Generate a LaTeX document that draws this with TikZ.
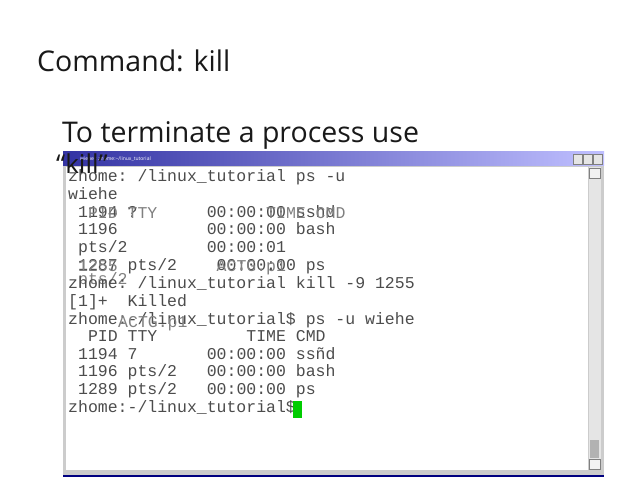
\documentclass[tikz,border=0pt]{standalone}
\usepackage{fontspec}
\setmainfont{Open Sans}
\newfontfamily\termfont{Liberation Mono}
\begin{document}
\begin{tikzpicture}[x=1pt,y=-1pt,
  term/.style={anchor=base west,inner sep=0pt,font=\termfont\fontsize{16.5}{16.5}\selectfont,text=black!70},
  ghost/.style={term,text=black!50},
  slide/.style={anchor=base west,inner sep=0pt,text=black!90}]
\useasboundingbox (0,0) rectangle (638,478);
\fill[white] (0,0) rectangle (638,478);
\node[slide,font=\fontsize{28.5}{28.5}\selectfont] (title) at (37,72) {Command: kill};
\node[slide,font=\fontsize{28.5}{28.5}\selectfont] (sub) at (62,143) {To terminate a process use};
% window
\fill[black!20] (63,152) rectangle (604,476);
\fill[white] (66,167) rectangle (588,470);
\shade[left color=blue!55!black!80,right color=blue!25!white] (63,152) rectangle (604,166);
\node[anchor=west,inner sep=0pt,font=\fontsize{5}{5}\selectfont,text=white] (wt) at (80,159) {wiehe : zhome:\textasciitilde/linux\_tutorial};
\foreach \i in {0,1,2}{
  \draw[fill=black!10,draw=black!50] (573+\i*10,154) rectangle (582+\i*10,164);}
\fill[black!10] (589,167) rectangle (601,470);
\draw[black!50,fill=black!5] (589,168) rectangle (600,178);
\draw[black!50,fill=black!5] (589,459) rectangle (600,469);
\fill[black!30] (590,440) rectangle (599,458);
\draw[blue!50!black,line width=1.5pt] (63,476) -- (604,476);
% "kill" on top of title bar
\node[slide,font=\fontsize{26}{26}\selectfont] (kill) at (56,174) {“kill”};
% terminal text
\node[term] (l1) at (68,182) {zhome:~/linux\_tutorial~ps~-u};
\node[term] (l2) at (68,200) {wiehe};
\node[term] (l3) at (68,218) {~1194~?~~~~~~~00:00:00~sshd};
\node[ghost] (g3) at (68,219) {~~PID~TTY~~~~~~~~~~~TIME~CMD};
\node[term] (l4) at (68,235) {~1196~~~~~~~~~00:00:00~bash};
\node[term] (l5) at (68,253) {~pts/2~~~~~~~~00:00:01};
\node[term] (l6) at (68,271) {~1287~pts/2~~~~00:00:00~ps};
\node[ghost] (g6) at (68,272) {~1255~~~~~~~~~~ACTG.p1};
\node[ghost] (g6b) at (68,285) {~pts/2};
\node[term] (l7) at (68,289) {zhome:~/linux\_tutorial~kill~-9~1255};
\node[term] (l8) at (68,307) {[1]+~~Killed};
\node[term] (l9) at (68,325) {zhome:-/linux\_tutorial\$~ps~-u~wiehe};
\node[ghost] (g9) at (118,328) {ACTG.p1};
\node[term] (l10) at (68,342) {~~PID~TTY~~~~~~~~~TIME~CMD};
\node[term] (l11) at (68,360) {~1194~7~~~~~~~00:00:00~ssñd};
\node[term] (l12) at (68,377) {~1196~pts/2~~~00:00:00~bash};
\node[term] (l13) at (68,395) {~1289~pts/2~~~00:00:00~ps};
\node[term] (l14) at (68,413) {zhome:-/linux\_tutorial\$};
\fill[green!80!black] (293,401) rectangle (302,418);
\end{tikzpicture}
\end{document}
